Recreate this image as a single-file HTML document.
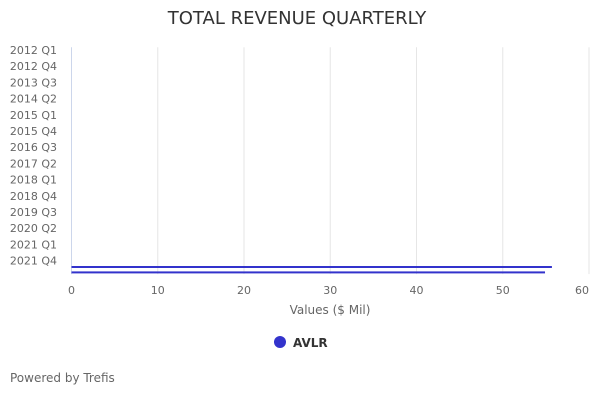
<!DOCTYPE html>
<html><head><meta charset="utf-8"><style>
body{margin:0;background:#fff;font-family:"Liberation Sans","DejaVu Sans",sans-serif;}
</style></head><body>
<svg width="600" height="400" xmlns="http://www.w3.org/2000/svg" style="font-family:'DejaVu Sans','Liberation Sans',sans-serif">
<text x="297" y="24" text-anchor="middle" font-size="18" fill="#333">TOTAL REVENUE QUARTERLY</text>
<g id="grid"></g><g id="ylabels"></g><g id="bars"></g><g id="xlabels"></g>
<text x="330" y="314" text-anchor="middle" font-size="12" fill="#666">Values ($ Mil)</text>
<circle cx="280" cy="342" r="6" fill="#3333cc"/>
<text x="293" y="347" font-size="12" font-weight="bold" fill="#333">AVLR</text>
<text x="10" y="382" font-size="12" fill="#666">Powered by Trefis</text>
</svg>
<script>
const categories=[];
for(let y=2012;y<=2022;y++)for(let q=1;q<=4;q++)categories.push(y+" Q"+q);
categories.length=42;
const values=new Array(42).fill(null);
values[40]=55.7;values[41]=54.9;
const xTicks=[0,10,20,30,40,50,60];
const NS="http://www.w3.org/2000/svg";
const x0=71.5,x1=589,plotTop=47.3,step=5.4,xMax=60;
const xs=v=>x0+v/xMax*(x1-x0);
const ys=i=>plotTop+i*step+step/2;
function mk(t,a,p){const e=document.createElementNS(NS,t);for(const k in a)e.setAttribute(k,a[k]);document.getElementById(p).appendChild(e);return e;}
xTicks.forEach((t,k)=>{
 const l=mk('line',{x1:xs(t),x2:xs(t),y1:plotTop,y2:plotTop+42*step,stroke:t===0?'#ccd6eb':'#e6e6e6','stroke-width':1},'grid');
 
 
 const lx=k===xTicks.length-1?Math.min(xs(t),582):xs(t);
 const tx=mk('text',{x:lx,y:294,'text-anchor':'middle','font-size':11,fill:'#666'},'xlabels');
 tx.textContent=t;
 
 
});
categories.forEach((c,i)=>{
 if(i%3===0){
  const tx=mk('text',{x:57,y:ys(i)+4,'text-anchor':'end','font-size':11,fill:'#666'},'ylabels');
  tx.textContent=c;
  
  
 }
 if(values[i]!=null){
  const r=mk('rect',{x:x0,y:ys(i),width:xs(values[i])-x0,height:2,fill:'#3333cc'},'bars');
  
  
 }
});
</script>
</body></html>
